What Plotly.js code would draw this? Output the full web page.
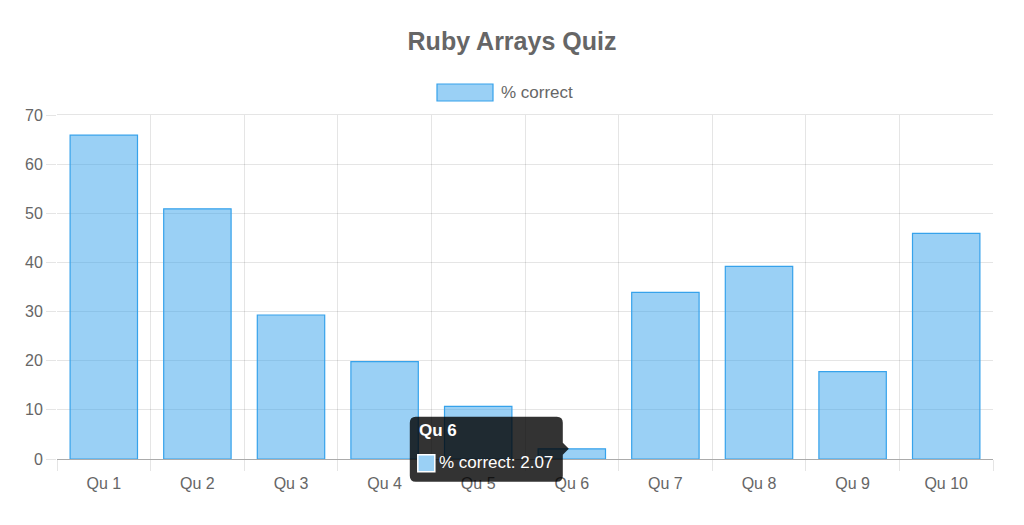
<!DOCTYPE html>
<html>
<head>
<meta charset="utf-8">
<script src="https://cdn.plot.ly/plotly-3.0.1.min.js"></script>
<style>
  html, body { margin: 0; padding: 0; background: #fff; }
  #quiz { width: 1024px; height: 525px; }
</style>
</head>
<body>
<div id="quiz"></div>
<script>
// bar chart of quiz results, styled after the Chart.js look

var questions = ['Qu 1', 'Qu 2', 'Qu 3', 'Qu 4', 'Qu 5', 'Qu 6', 'Qu 7', 'Qu 8', 'Qu 9', 'Qu 10'];
var pctCorrect = [65.9, 50.9, 29.3, 19.8, 10.7, 2.07, 33.9, 39.2, 17.8, 45.9];
var seriesName = '% correct';
var chartTitle = 'Ruby Arrays Quiz';
var hoverIndex = 5;
var yMax = 70;

var fontFam = '"Liberation Sans", Arial, Helvetica, sans-serif';
var fillCol = 'rgba(54,162,235,0.5)';
var lineCol = 'rgb(54,162,235)';
var gridCol = 'rgba(0,0,0,0.1)';

var trace = {
    x: questions,
    y: pctCorrect,
    name: seriesName,
    type: 'bar',
    marker: {color: fillCol, line: {color: lineCol, width: 1.2}},
    hoverinfo: 'none',
    showlegend: false
};

// tooltip anchored at the top of the hovered bar (paper refs so nothing gets clipped)
var hx = questions[hoverIndex];
var hy = pctCorrect[hoverIndex];
var ax = (hoverIndex + 0.5) / questions.length;
var ay = hy / yMax;
var tipPath = 'M-3,0 L-9,6 L-9,26 Q-9,32 -15,32 L-156,32 Q-162,32 -162,26 ' +
    'L-162,-27 Q-162,-33 -156,-33 L-15,-33 Q-9,-33 -9,-27 L-9,-6 Z';

var shapes = [
    {
        type: 'path', xref: 'paper', yref: 'paper',
        xsizemode: 'pixel', ysizemode: 'pixel',
        xanchor: ax, yanchor: ay,
        path: tipPath,
        fillcolor: 'rgba(0,0,0,0.8)',
        line: {width: 0},
        layer: 'above'
    },
    {
        type: 'rect', xref: 'paper', yref: 'paper',
        xsizemode: 'pixel', ysizemode: 'pixel',
        xanchor: ax, yanchor: ay,
        x0: -154, x1: -137, y0: -23, y1: -6,
        fillcolor: 'rgb(154,208,245)',
        line: {color: '#fff', width: 1.5},
        layer: 'above'
    },
    // legend swatch
    {
        type: 'rect', xref: 'paper', yref: 'paper',
        x0: (437 - 57) / 936, x1: (493 - 57) / 936,
        y0: (459 - 101) / 344, y1: (459 - 84) / 344,
        fillcolor: 'rgb(154,208,245)',
        line: {color: lineCol, width: 1.2}
    }
];

var annotations = [
    {
        xref: 'paper', yref: 'paper', x: ax, y: ay,
        xanchor: 'left', yanchor: 'middle',
        xshift: -155, yshift: 18,
        text: '<b>' + hx + '</b>',
        showarrow: false,
        font: {family: fontFam, size: 17, color: '#fff'}
    },
    {
        xref: 'paper', yref: 'paper', x: ax, y: ay,
        xanchor: 'left', yanchor: 'middle',
        xshift: -135, yshift: -14,
        text: seriesName + ': ' + hy,
        showarrow: false,
        font: {family: fontFam, size: 17, color: '#fff'}
    },
    {
        xref: 'paper', yref: 'paper',
        x: (499 - 57) / 936, y: (459 - 92) / 344,
        xanchor: 'left', yanchor: 'middle',
        text: seriesName,
        showarrow: false,
        font: {family: fontFam, size: 17, color: '#666'}
    }
];

var layout = {
    width: 1024,
    height: 525,
    paper_bgcolor: '#fff',
    plot_bgcolor: '#fff',
    showlegend: false,
    bargap: 0.28,
    margin: {l: 57, r: 31, t: 115, b: 66, pad: 0},
    font: {family: fontFam, size: 16, color: '#666'},
    title: {
        text: '<b>' + chartTitle + '</b>',
        font: {family: fontFam, size: 25, color: '#666'},
        x: 0.5, xanchor: 'center',
        y: 1 - 41 / 525, yanchor: 'middle'
    },
    xaxis: {
        type: 'category',
        tickson: 'boundaries',
        showgrid: true,
        gridcolor: gridCol,
        gridwidth: 1,
        ticks: 'outside',
        ticklen: 11,
        tickcolor: gridCol,
        ticklabelstandoff: 10,
        showline: true,
        linecolor: gridCol,
        mirror: true,
        zeroline: false,
        tickfont: {family: fontFam, size: 16, color: '#666'},
        fixedrange: true
    },
    yaxis: {
        range: [0, yMax],
        dtick: 10,
        showgrid: true,
        gridcolor: gridCol,
        ticks: 'outside',
        ticklen: 10,
        tickcolor: gridCol,
        showline: false,
        zeroline: true,
        zerolinecolor: 'rgba(0,0,0,0.25)',
        zerolinewidth: 1,
        tickfont: {family: fontFam, size: 16, color: '#666'},
        fixedrange: true
    },
    shapes: shapes,
    annotations: annotations
};

Plotly.newPlot('quiz', [trace], layout, {displayModeBar: false, staticPlot: true});
</script>
</body>
</html>
